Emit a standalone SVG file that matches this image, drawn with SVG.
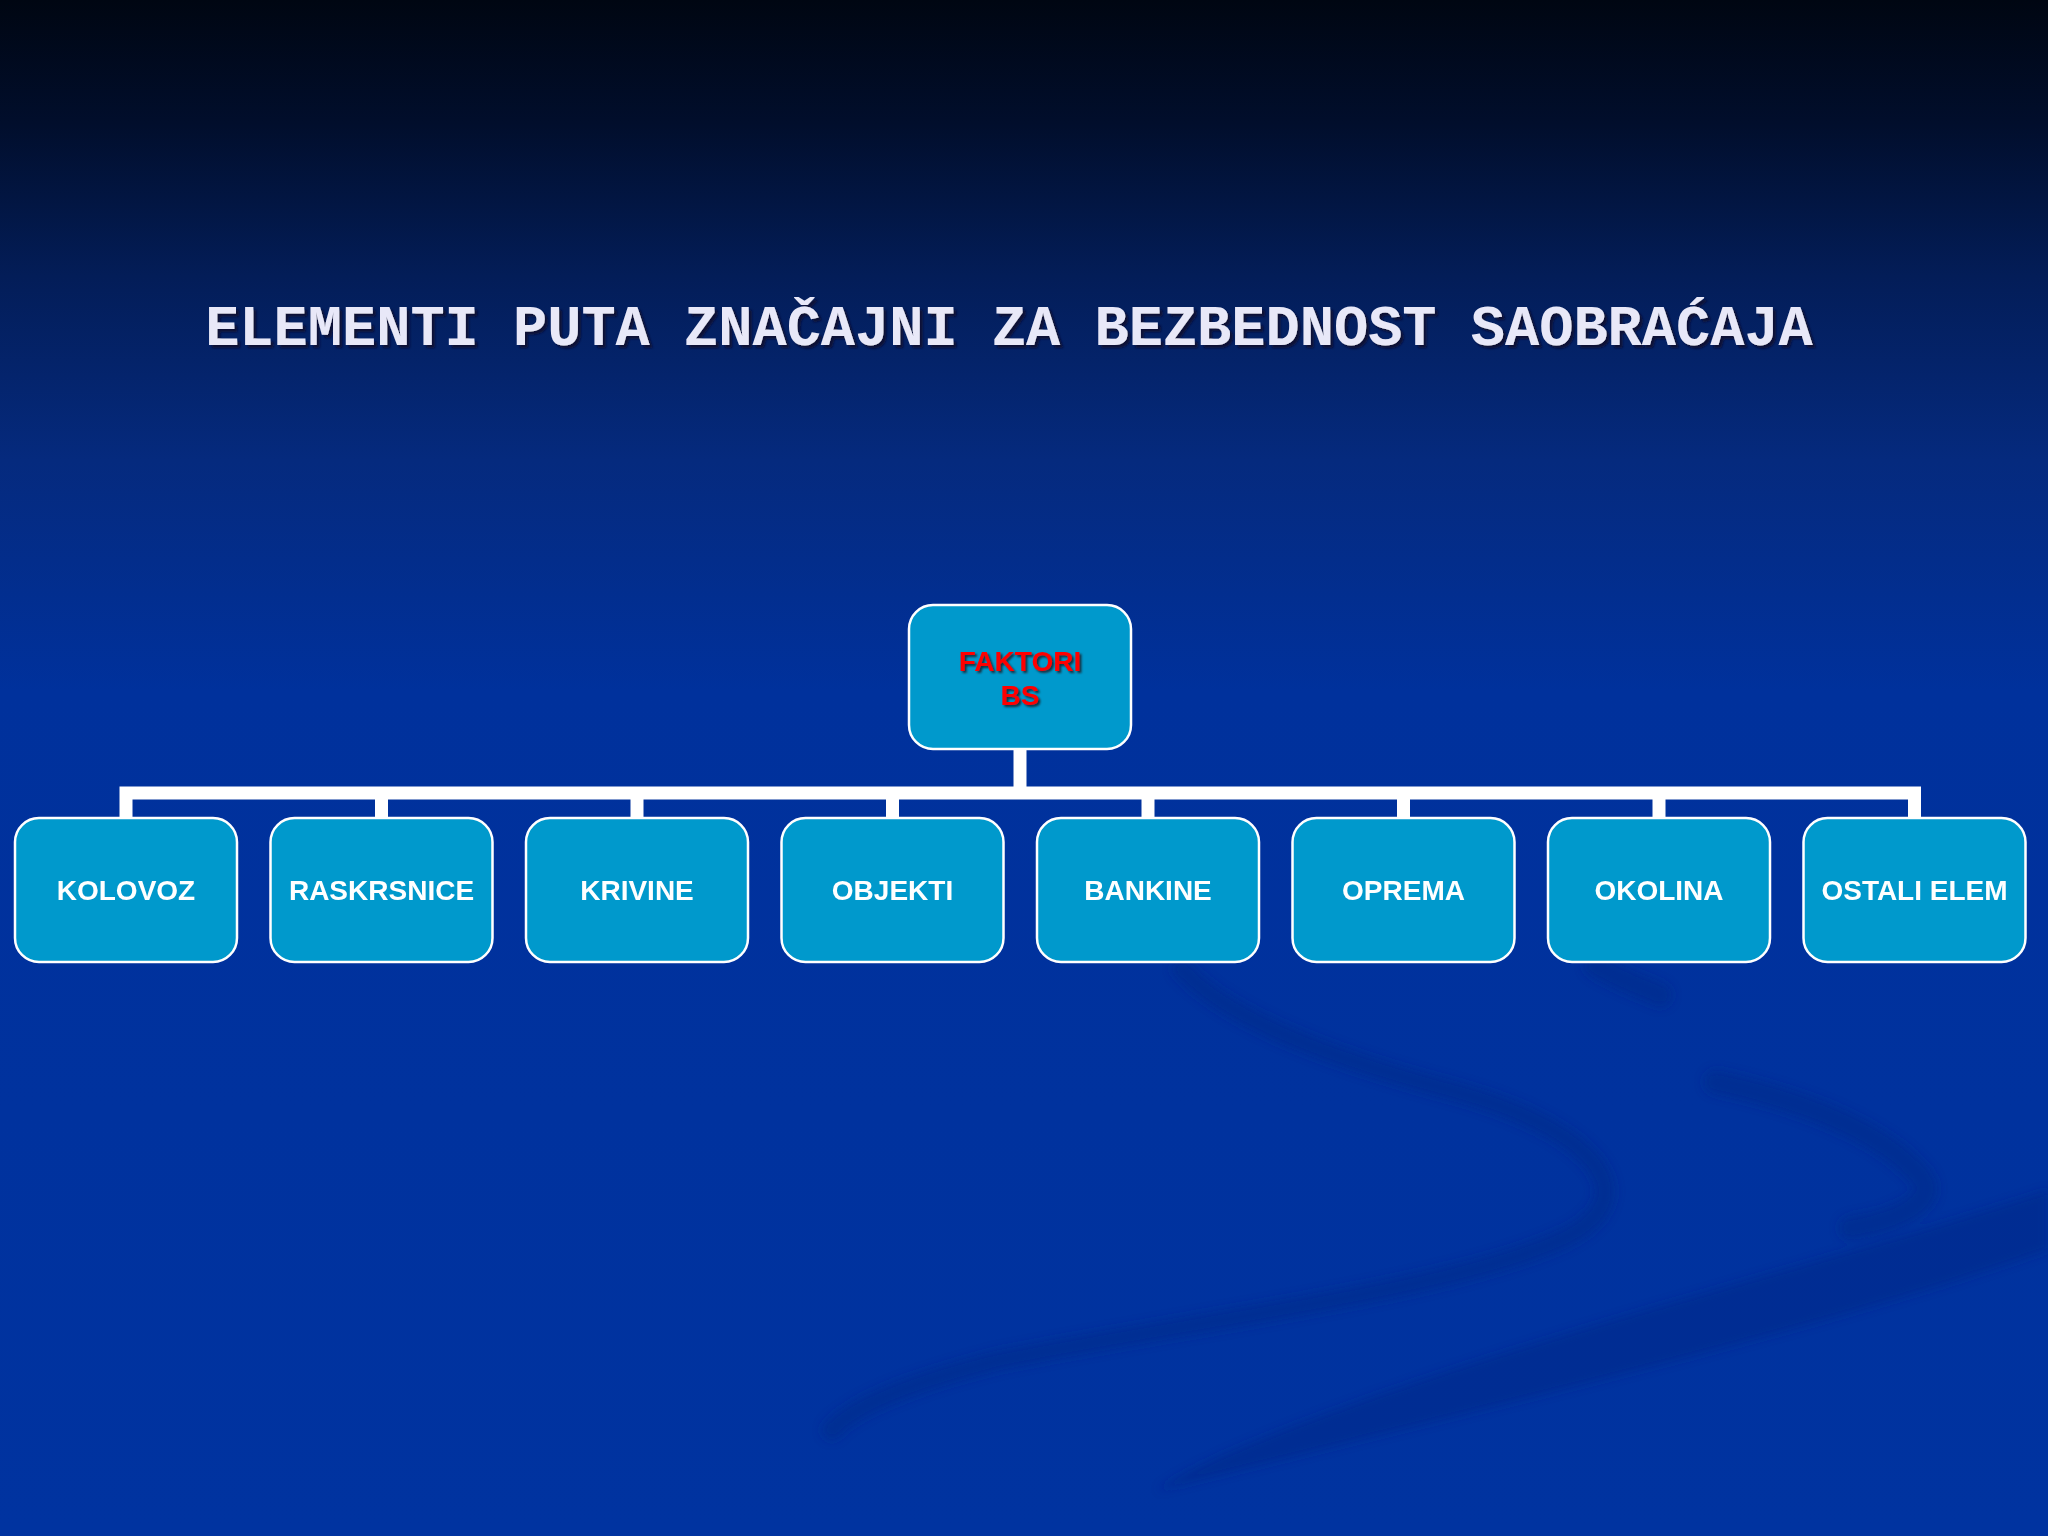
<svg xmlns="http://www.w3.org/2000/svg" width="2048" height="1536" viewBox="0 0 2048 1536">
<defs>
<linearGradient id="bg" x1="0" y1="0" x2="0" y2="1">
<stop offset="0" stop-color="#000612"/>
<stop offset="0.08" stop-color="#010e2c"/>
<stop offset="0.18" stop-color="#031d58"/>
<stop offset="0.3" stop-color="#052a7e"/>
<stop offset="0.45" stop-color="#00319c"/>
<stop offset="1" stop-color="#0033a0"/>
</linearGradient>
<filter id="sh" x="-5%" y="-20%" width="110%" height="140%">
<feDropShadow dx="3" dy="3" stdDeviation="1" flood-color="#0a0a30" flood-opacity="0.9"/>
</filter>
<filter id="sh2" x="-10%" y="-20%" width="120%" height="140%">
<feDropShadow dx="2" dy="2" stdDeviation="0.8" flood-color="#200000" flood-opacity="0.7"/>
</filter>
<filter id="blur"><feGaussianBlur stdDeviation="5"/></filter>
</defs>
<style>
.box{fill:#0099cc;stroke:#ffffff;stroke-width:2.5}
.lbl{font-family:"Liberation Sans",Arial,sans-serif;font-weight:bold;font-size:28px;fill:#ffffff;text-anchor:middle}
.root{font-family:"Liberation Sans",Arial,sans-serif;font-weight:bold;font-size:28px;fill:#ff0000;text-anchor:middle}
.conn{fill:none;stroke:#ffffff;stroke-width:13}
.sw{fill:none;stroke:#002a8a;stroke-linecap:round;opacity:0.5}
</style>
<rect x="0" y="0" width="2048" height="1536" fill="url(#bg)"/>
<g id="swooshes" filter="url(#blur)">
<path class="sw" stroke-width="20" d="M1182 969 C1220 1010 1300 1050 1450 1090 C1600 1130 1650 1200 1560 1240 C1450 1290 1200 1320 1000 1360 C900 1385 850 1410 832 1430"/>
<path class="sw" stroke-width="24" d="M1596 965 C1620 980 1650 990 1660 995 M1716 1082 C1800 1100 1880 1130 1920 1176 C1940 1200 1900 1220 1851 1228"/>
<path fill="#002a88" opacity="0.55" d="M2048 1190 L2048 1250 C1850 1320 1600 1380 1400 1430 C1300 1455 1200 1480 1158 1490 C1200 1460 1300 1420 1450 1370 C1700 1290 1900 1240 2048 1190 Z"/>
</g>
<text x="1009" y="345" font-family="'Liberation Mono','Courier New',monospace" font-weight="bold" font-size="57" fill="#e8e8f8" text-anchor="middle" filter="url(#sh)">ELEMENTI PUTA ZNAČAJNI ZA BEZBEDNOST SAOBRAĆAJA</text>
<g id="connectors">
<path class="conn" d="M1020 749 V793"/>
<path class="conn" d="M126 818 V793 H1914.5 V818"/>
<path class="conn" d="M381.5 793 V818 M637 793 V818 M892.5 793 V818 M1148 793 V818 M1403.5 793 V818 M1659 793 V818"/>
</g>
<g id="node-root">
<rect class="box" x="909" y="605" width="222" height="144" rx="24"/>
<text class="root" x="1020" y="671" filter="url(#sh2)">FAKTORI</text>
<text class="root" x="1020" y="705" filter="url(#sh2)">BS</text>
</g>
<g id="node-kolovoz"><rect class="box" x="15" y="818" width="222" height="144" rx="24"/><text class="lbl" x="126" y="900">KOLOVOZ</text></g>
<g id="node-raskrsnice"><rect class="box" x="270.5" y="818" width="222" height="144" rx="24"/><text class="lbl" x="381.5" y="900">RASKRSNICE</text></g>
<g id="node-krivine"><rect class="box" x="526" y="818" width="222" height="144" rx="24"/><text class="lbl" x="637" y="900">KRIVINE</text></g>
<g id="node-objekti"><rect class="box" x="781.5" y="818" width="222" height="144" rx="24"/><text class="lbl" x="892.5" y="900">OBJEKTI</text></g>
<g id="node-bankine"><rect class="box" x="1037" y="818" width="222" height="144" rx="24"/><text class="lbl" x="1148" y="900">BANKINE</text></g>
<g id="node-oprema"><rect class="box" x="1292.5" y="818" width="222" height="144" rx="24"/><text class="lbl" x="1403.5" y="900">OPREMA</text></g>
<g id="node-okolina"><rect class="box" x="1548" y="818" width="222" height="144" rx="24"/><text class="lbl" x="1659" y="900">OKOLINA</text></g>
<g id="node-ostali"><rect class="box" x="1803.5" y="818" width="222" height="144" rx="24"/><text class="lbl" x="1914.5" y="900">OSTALI ELEM</text></g>
</svg>
